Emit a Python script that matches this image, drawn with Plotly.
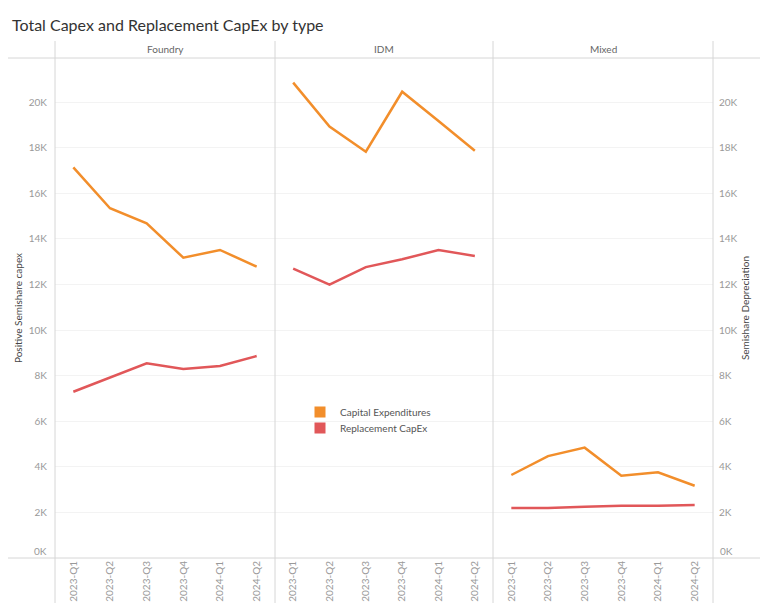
import plotly.graph_objects as go

# ---- data ----
quarters = ["2023-Q1", "2023-Q2", "2023-Q3", "2023-Q4", "2024-Q1", "2024-Q2"]
types = ["Foundry", "IDM", "Mixed"]
capex_foundry = [17130, 15340, 14680, 13170, 13510, 12780]
capex_idm = [20850, 18920, 17820, 20450, 19170, 17860]
capex_mixed = [3640, 4470, 4840, 3610, 3760, 3170]
repl_foundry = [7290, 7920, 8540, 8290, 8420, 8860]
repl_idm = [12690, 11990, 12760, 13100, 13510, 13250]
repl_mixed = [2190, 2190, 2250, 2290, 2290, 2320]
y_tick_vals = [2000, 4000, 6000, 8000, 10000, 12000, 14000, 16000, 18000, 20000]
y_tick_text = ["2K", "4K", "6K", "8K", "10K", "12K", "14K", "16K", "18K", "20K"]
zero_label = "0K"
series_names = ["Capital Expenditures", "Replacement CapEx"]

ORANGE = "#F28E2B"
RED = "#E15759"
# the page body has an 8px margin, so the figure is drawn 8px in from the
# window corner; size it so it fits the 768x614 window without overflow
OFF = 8
W, H = 768 - 2 * OFF, 614 - 2 * OFF
FONT = "Lato"

def px(x):
    return (x - OFF) / W

def py(y):
    return 1 - (y - OFF) / H

capex = [capex_foundry, capex_idm, capex_mixed]
repl = [repl_foundry, repl_idm, repl_mixed]

fig = go.Figure()
for i in range(3):
    xa = "x" if i == 0 else f"x{i+1}"
    ya = "y" if i == 0 else f"y{i+1}"
    fig.add_trace(go.Scatter(x=quarters, y=capex[i], mode="lines",
                             line=dict(color=ORANGE, width=2.5),
                             xaxis=xa, yaxis=ya, showlegend=False,
                             name=series_names[0]))
    fig.add_trace(go.Scatter(x=quarters, y=repl[i], mode="lines",
                             line=dict(color=RED, width=2.5),
                             xaxis=xa, yaxis=ya, showlegend=False,
                             name=series_names[1]))

# legend entries (square swatches), one per legend box for tight spacing
for nm, col, lg in zip(series_names, [ORANGE, RED], ["legend", "legend2"]):
    fig.add_trace(go.Scatter(x=[None], y=[None], mode="markers",
                             marker=dict(symbol="square", size=11, color=col),
                             name=nm, showlegend=True, legend=lg,
                             xaxis="x2", yaxis="y2"))

x_edges = [55, 275, 493, 713]
y_top, y_bot = 58, 558
yr = [0, (y_bot - y_top) / 22.8 * 1000]

leg_common = dict(xanchor="left", yanchor="middle", bgcolor="rgba(0,0,0,0)",
                  font=dict(size=10, color="#555", family=FONT),
                  itemwidth=30, borderwidth=0)

layout = dict(
    width=W, height=H,
    margin=dict(l=0, r=0, t=0, b=0, pad=0),
    paper_bgcolor="white", plot_bgcolor="white",
    font=dict(family=FONT, color="#888", size=10),
    title=dict(text="Total Capex and Replacement CapEx by type",
               xref="paper", x=px(12), xanchor="left",
               yref="paper", y=py(25), yanchor="middle",
               pad=dict(l=0, r=0, t=0, b=0),
               font=dict(size=16, color="#333", family=FONT)),
    legend=dict(x=px(300), y=py(412), **leg_common),
    legend2=dict(x=px(300), y=py(428), **leg_common),
    showlegend=True,
)

for i in range(3):
    sfx = "" if i == 0 else str(i + 1)
    layout["xaxis" + sfx] = dict(
        domain=[px(x_edges[i]), px(x_edges[i + 1])],
        anchor="y" + sfx, type="category", range=[-0.5, 5.5],
        tickangle=-90, showgrid=False, zeroline=False, showline=False,
        ticks="", tickfont=dict(size=10, color="#999"), fixedrange=True,
        automargin=False,
    )
    ya = dict(
        domain=[py(y_bot), py(y_top)], anchor="x" + sfx,
        range=yr, tickvals=y_tick_vals, ticktext=y_tick_text,
        showgrid=True, gridcolor="#f3f3f3", gridwidth=1,
        zeroline=False, showline=False, ticks="",
        tickfont=dict(size=10, color="#999"), automargin=False,
    )
    if i == 0:
        ya.update(title=dict(text="Positive Semishare capex",
                             font=dict(size=10, color="#444"), standoff=4),
                  ticklabelstandoff=7)
    elif i == 1:
        ya.update(showticklabels=False)
    else:
        ya.update(side="right",
                  title=dict(text="Semishare Depreciation",
                             font=dict(size=10, color="#444"), standoff=5),
                  ticklabelstandoff=5)
    layout["yaxis" + sfx] = ya

shapes = []
for xe in x_edges:
    shapes.append(dict(type="line", xref="paper", yref="paper",
                       x0=px(xe), x1=px(xe), y0=py(41), y1=py(603),
                       line=dict(color="#d6d6d6", width=1)))
shapes.append(dict(type="line", xref="paper", yref="paper",
                   x0=px(8), x1=1, y0=py(y_top), y1=py(y_top),
                   line=dict(color="#d6d6d6", width=1)))
shapes.append(dict(type="line", xref="paper", yref="paper",
                   x0=px(8), x1=px(760), y0=py(y_bot), y1=py(y_bot),
                   line=dict(color="#d6d6d6", width=1)))
layout["shapes"] = shapes

annotations = []
for i, t in enumerate(types):
    annotations.append(dict(text=t, xref="paper", yref="paper",
                            x=px((x_edges[i] + x_edges[i + 1]) / 2), y=py(49),
                            xanchor="center", yanchor="middle", showarrow=False,
                            font=dict(size=10, color="#666")))
# zero tick labels sit just above the baseline, as in the reference
annotations.append(dict(text=zero_label, xref="paper", yref="paper",
                        x=px(49), y=py(551), xanchor="right", yanchor="middle",
                        showarrow=False, font=dict(size=10, color="#999")))
annotations.append(dict(text=zero_label, xref="paper", yref="paper",
                        x=px(718), y=py(551), xanchor="left", yanchor="middle",
                        showarrow=False, font=dict(size=10, color="#999")))
layout["annotations"] = annotations

fig.update_layout(**layout)
fig.write_html("out.html")
